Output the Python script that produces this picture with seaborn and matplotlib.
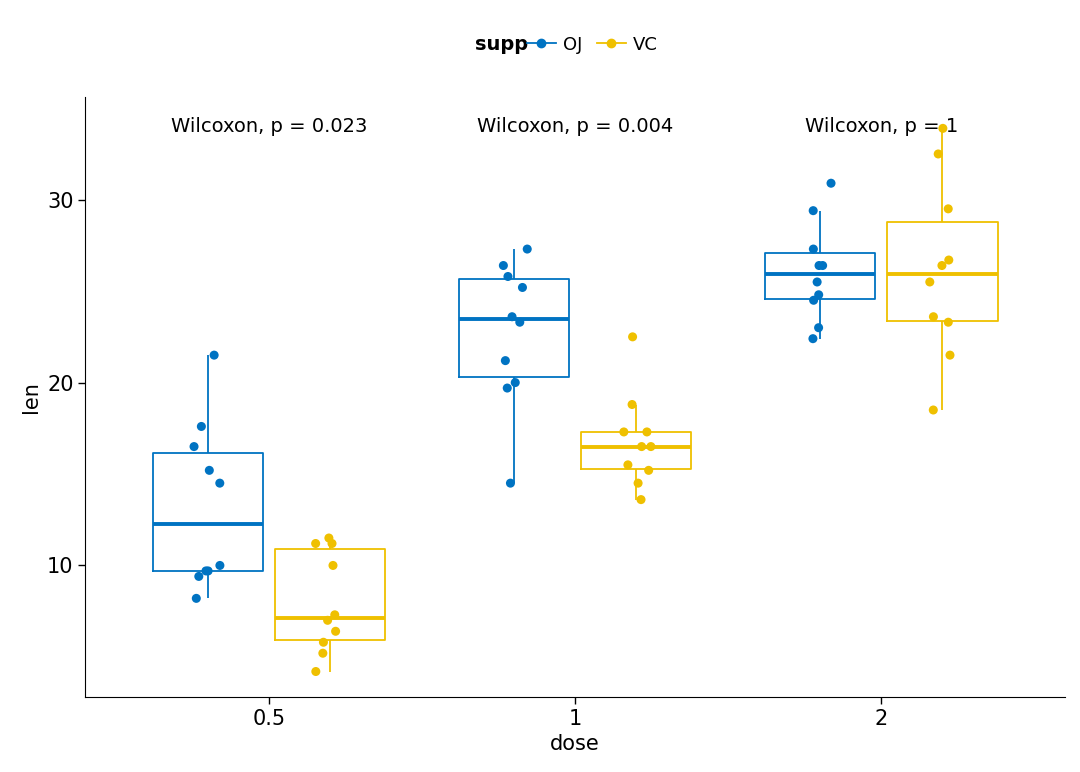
import numpy as np
import pandas as pd
import matplotlib
matplotlib.use("Agg")
import matplotlib.pyplot as plt
import seaborn as sns
from matplotlib.lines import Line2D

doses = ["0.5", "1", "2"]
supps = ["OJ", "VC"]
oj_05 = [15.2, 21.5, 17.6, 9.7, 14.5, 10.0, 8.2, 9.4, 16.5, 9.7]
oj_1 = [19.7, 23.3, 23.6, 26.4, 20.0, 25.2, 25.8, 21.2, 14.5, 27.3]
oj_2 = [25.5, 26.4, 22.4, 24.5, 24.8, 30.9, 26.4, 27.3, 29.4, 23.0]
vc_05 = [4.2, 11.5, 7.3, 5.8, 6.4, 10.0, 11.2, 11.2, 5.2, 7.0]
vc_1 = [16.5, 16.5, 15.2, 17.3, 22.5, 17.3, 13.6, 14.5, 18.8, 15.5]
vc_2 = [23.6, 18.5, 33.9, 25.5, 26.4, 32.5, 26.7, 21.5, 23.3, 29.5]
pvals = ["Wilcoxon, p = 0.023", "Wilcoxon, p = 0.004", "Wilcoxon, p = 1"]

rows = []
for s, groups in zip(supps, [[oj_05, oj_1, oj_2], [vc_05, vc_1, vc_2]]):
    for d, vals in zip(doses, groups):
        rows += [{"supp": s, "dose": d, "len": v} for v in vals]
df = pd.DataFrame(rows)

pal = {"OJ": "#0073C2", "VC": "#EFC000"}
fig = plt.figure(figsize=(10.8, 7.72), dpi=100)
ax = fig.add_axes([0.079, 0.097, 0.907, 0.777])

sns.boxplot(data=df, x="dose", y="len", hue="supp", order=doses, hue_order=supps,
            palette=pal, fill=False, width=0.8, gap=0.1, showcaps=False,
            fliersize=0, linewidth=1.3, whis=1.5,
            medianprops={"linewidth": 2.8}, legend=False, ax=ax)
np.random.seed(3)
sns.stripplot(data=df, x="dose", y="len", hue="supp", order=doses, hue_order=supps,
              palette=pal, dodge=True, jitter=0.1, size=6.5, legend=False, ax=ax)

for i, t in enumerate(pvals):
    ax.text(i, 34, t, ha="center", va="center", fontsize=14)

ax.set_ylim(2.8, 35.6)
ax.set_xlim(-0.6, 2.6)
ax.set_yticks([10, 20, 30])
ax.set_xlabel("dose", fontsize=15)
ax.set_ylabel("len", fontsize=15)
ax.tick_params(labelsize=15, length=5, width=1)
for sp in ["top", "right"]:
    ax.spines[sp].set_visible(False)

fig.text(0.44, 0.942, "supp", fontsize=14, fontweight="bold", ha="left", va="center")
handles = [Line2D([0], [0], color=pal[s], marker="o", linewidth=1.3, markersize=6) for s in supps]
fig.legend(handles, supps, loc="center left", bbox_to_anchor=(0.488, 0.942), ncol=2,
           frameon=False, fontsize=13, handlelength=1.6, columnspacing=0.8,
           handletextpad=0.4, borderpad=0, borderaxespad=0)
fig.savefig("out.png", dpi=100)
